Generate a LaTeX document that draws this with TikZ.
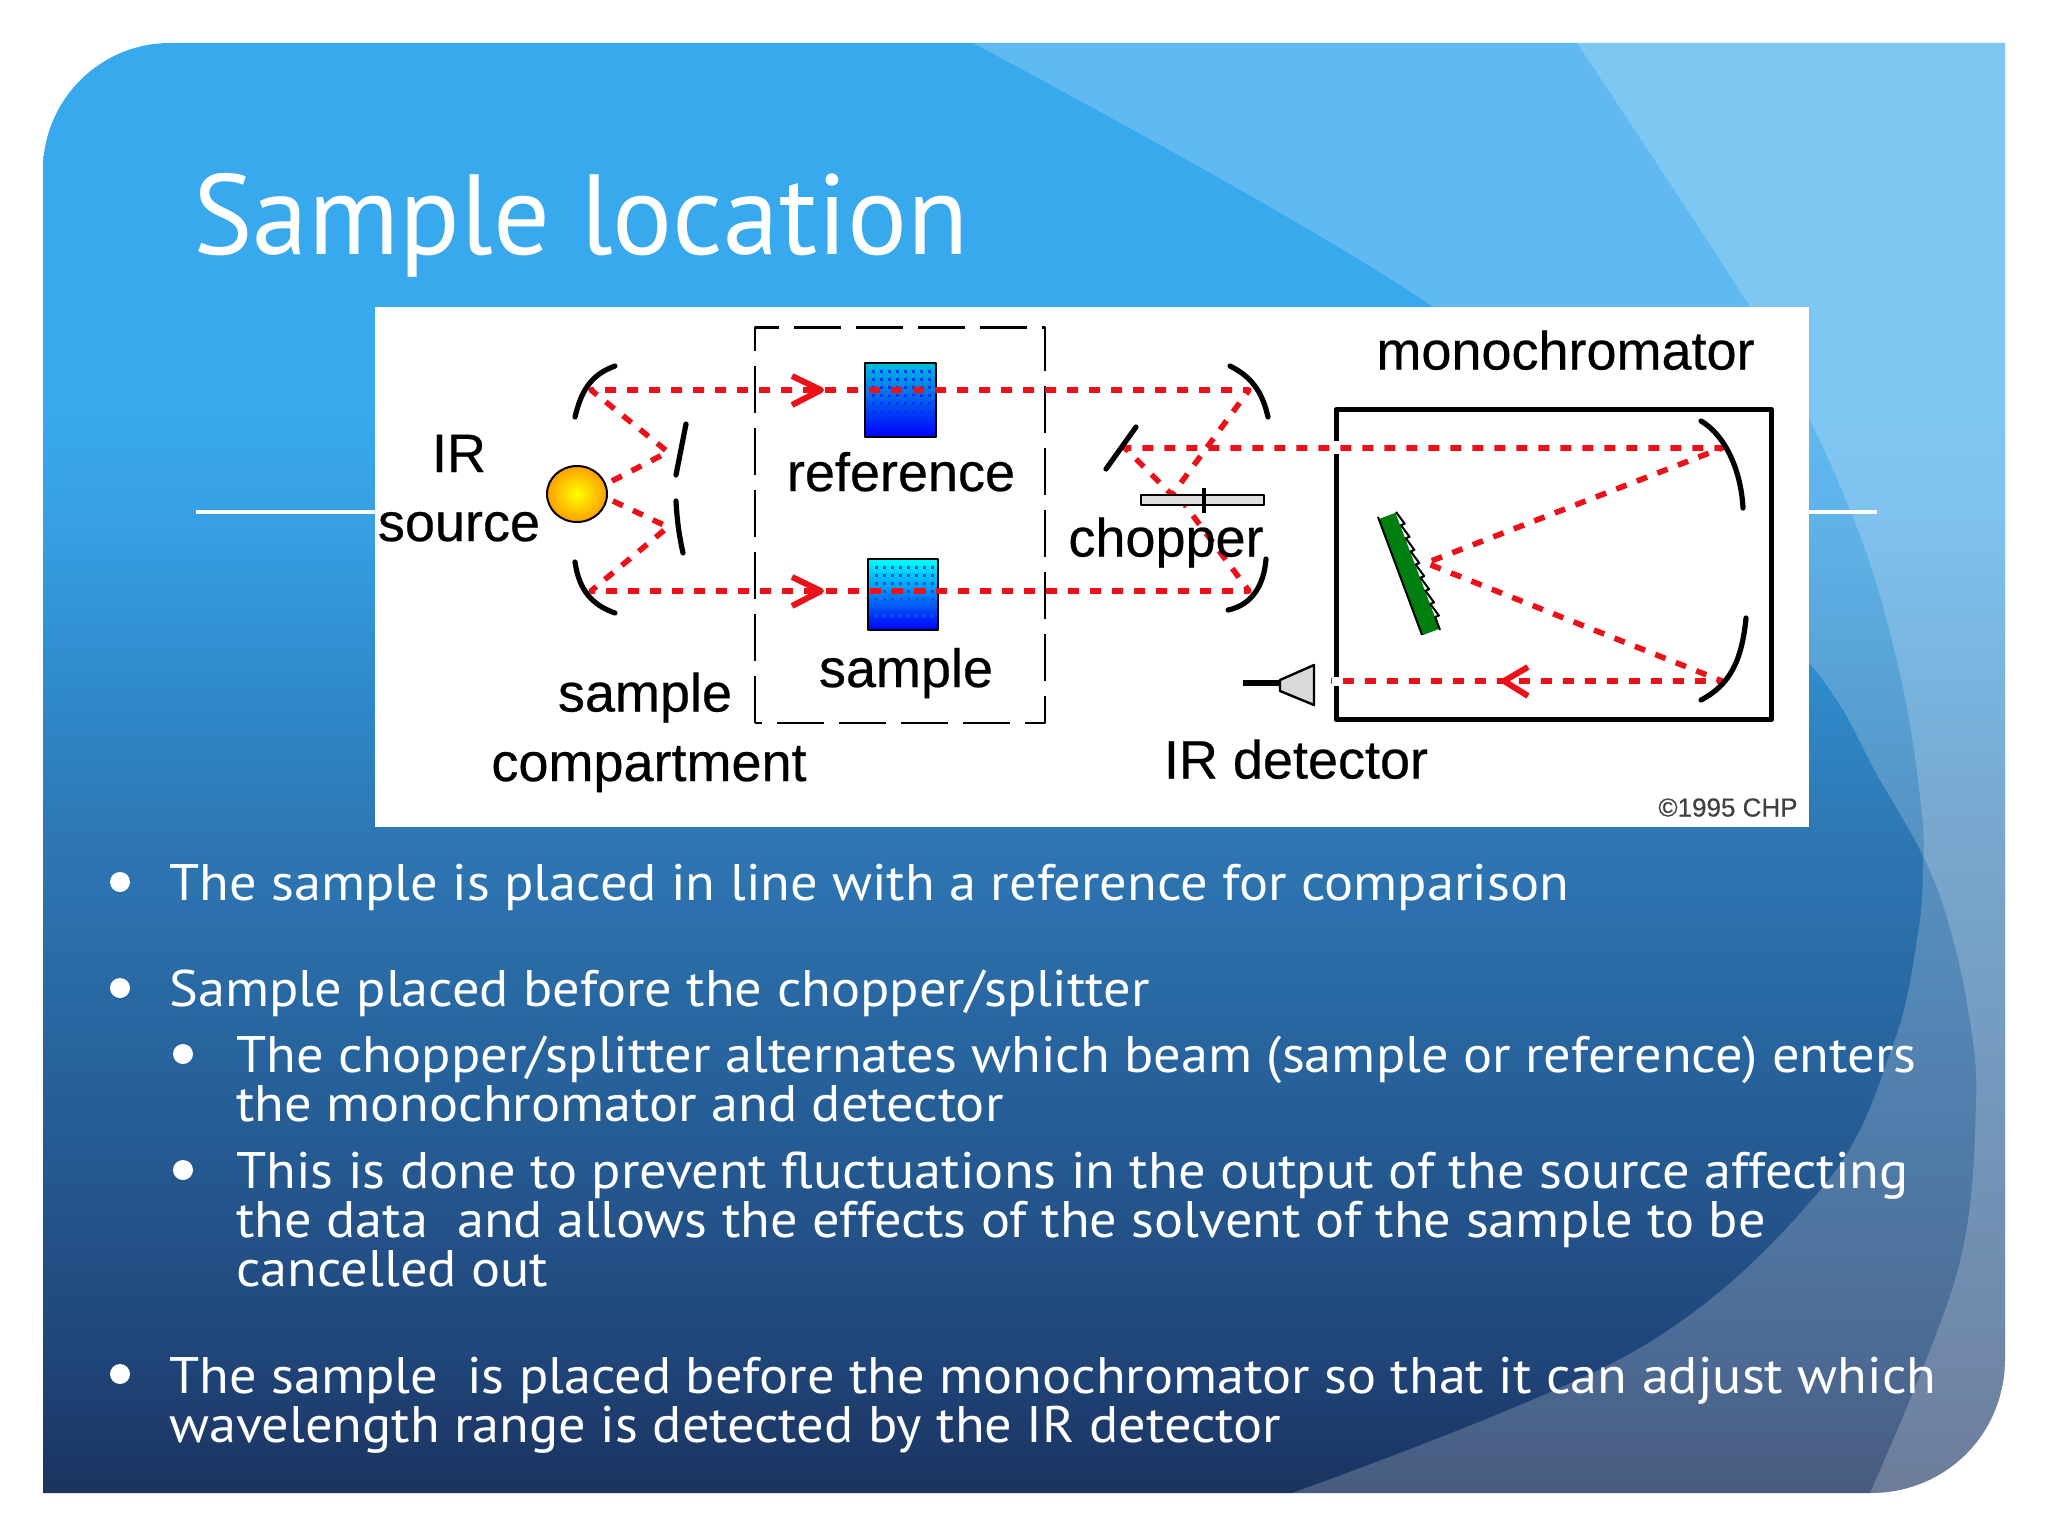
\documentclass[tikz,border=0pt]{standalone}
\usepackage{fontspec}
\setmainfont[FakeStretch=1.057]{PT Sans}
\newfontfamily\titlefont[FakeStretch=0.984]{PT Sans}
\newfontfamily\diagfont[FakeBold=0.4]{Liberation Sans}
\usetikzlibrary{decorations.pathmorphing}
\definecolor{beamred}{HTML}{EC1018}
\definecolor{gratinggreen}{HTML}{007F10}
\definecolor{slideA}{HTML}{1B3360}
\definecolor{slideB}{HTML}{20467A}
\definecolor{slideC}{HTML}{265F98}
\definecolor{slideD}{HTML}{2E78B5}
\definecolor{slideE}{HTML}{2E88C8}
\definecolor{slideF}{HTML}{37A0E4}
\definecolor{slideG}{HTML}{39A9EE}
\pgfdeclareverticalshading{slidebg}{100bp}{
  color(0bp)=(slideA); color(25bp)=(slideA); color(29.9bp)=(slideB); color(38.5bp)=(slideC);
  color(47.9bp)=(slideD); color(52.3bp)=(slideE); color(58.6bp)=(slideF); color(62.7bp)=(slideG);
  color(75bp)=(slideG); color(100bp)=(slideG)}
\tikzset{
  swoosh/.style={fill=white, fill opacity=0.2},
  bodyline/.style={anchor=base west, inner sep=0pt, text=white, font=\fontsize{25.7}{30}\selectfont},
  difftext/.style={anchor=base, inner sep=0pt, text=black, font=\diagfont\fontsize{27}{30}\selectfont},
  mirror/.style={line width=2.6pt, line cap=round},
  beam/.style={beamred, line width=2.8pt, dash pattern=on 5.5pt off 5.5pt},
  beamhead/.style={beamred, line width=3pt},
  dot/.style={fill=white}
}
\begin{document}
\begin{tikzpicture}[x=0.5pt, y=-0.5pt, line join=round]
	\useasboundingbox (0,0) rectangle (2048,1536);
	\fill[white] (0,0) rectangle (2048,1536);

	% slide background
	\def\slidepath{(170,43) -- (2005,43) -- (2005,1358) .. controls (2005,1435) and (1945,1493) .. (1870,1493) -- (43,1493) -- (43,170) .. controls (43,100) and (100,43) .. (170,43) -- cycle}
	\shade[shading=slidebg] \slidepath;
	\begin{scope}
		\clip \slidepath;
		\fill[swoosh] plot[smooth, tension=0.6] coordinates {(973,43) (1433,307) (1650,520) (1809,663) (1880,780) (1923,856) (1947,918) (1967,1004) (1976,1103) (1957,1273) (1870,1493)} -- (2100,1600) -- (2100,0) -- (973,0) -- cycle;
		\fill[swoosh] plot[smooth, tension=0.6] coordinates {(1577,43) (1750,307) (1809,418) (1850,510) (1880,596) (1907,708) (1922,815) (1923,867) (1918,933) (1893,1045) (1822,1188) (1633,1352) (1292,1493)} -- (1292,1600) -- (2100,1600) -- (2100,0) -- (1577,0) -- cycle;
	\end{scope}

	\node[anchor=base west, inner sep=0pt, text=white, font=\titlefont\fontsize{57}{60}\selectfont] (title) at (193,254) {Sample location};
	\draw[white, line width=2pt] (196,511.5) -- (1877,511.5);

	% white panel
	\fill[white] (375,307) rectangle (1809,827);

	\coordinate (S1) at (612,481);
	\coordinate (S2) at (613,501);
	\coordinate (T1) at (668,452);
	\coordinate (T2) at (668,527);
	\coordinate (A) at (591,390);
	\coordinate (B) at (591,591);
	\coordinate (C) at (1249,390);
	\coordinate (D) at (1249,591);
	\coordinate (E) at (1172,495);
	\coordinate (F) at (1185,505);
	\coordinate (G) at (1125,448);
	\coordinate (H) at (1722,448);
	\coordinate (K) at (1426,563);
	\coordinate (L) at (1722,681);
	\coordinate (M) at (1331,681);

	% compartment
	\draw[line width=1.25pt, dash pattern=on 23.5pt off 7.5pt] (755,723) -- (755,327.5) -- (1045,327.5) -- (1045,723) -- cycle;

	% sample cells
	\shade[top color=cyan!70!blue!85!green, bottom color=blue] (865,363) rectangle (936,437);
	\shade[top color=cyan, bottom color=blue] (868,559) rectangle (938,630);
	\foreach \x in {872,880,...,930}
		\foreach \y in {370,378,...,425}
			\fill[blue!80!cyan] (\x,\y) rectangle ++(3,3);
	\foreach \x in {875,883,...,933}
		\foreach \y in {566,574,...,620}
			\fill[cyan!30!blue] (\x,\y) rectangle ++(3,3);
	\draw[line width=1.25pt] (865,363) rectangle (936,437);
	\draw[line width=1.25pt] (868,559) rectangle (938,630);

	% beams
	\draw[beam] (S1) -- (T1) -- (A) -- (C) -- (E) -- (G) -- (H) -- (K) -- (L) -- (M);
	\draw[beam] (S2) -- (T2) -- (B) -- (D) -- (F);
	\draw[beamhead] (792,376) -- (821,390) -- (792,405);
	\draw[beamhead] (792,577) -- (821,591) -- (792,606);
	\draw[beamhead] (1528,667) -- (1504,681) -- (1528,696);

	% mirrors
	\draw[mirror] (575,417) .. controls (581,392) and (590,375) .. (615,366);
	\draw[mirror] (575,562) .. controls (579,590) and (592,605) .. (615,613);
	\draw[mirror] (686,424) -- (676,475);
	\draw[mirror] (676,501) .. controls (677,520) and (679,535) .. (683,553);
	\draw[mirror] (1230,366) .. controls (1250,376) and (1262,390) .. (1268,417);
	\draw[mirror] (1266,559) .. controls (1264,585) and (1252,605) .. (1228,610);
	\draw[mirror] (1136,427) -- (1106,469);
	\draw[mirror] (1701,421) .. controls (1725,435) and (1741,470) .. (1743,508);
	\draw[mirror] (1746,618) .. controls (1742,660) and (1730,685) .. (1701,700);

	% source
	\draw[line width=1pt, inner color=yellow, outer color=orange!75!yellow] (577,494) ellipse [x radius=30, y radius=28];

	% chopper
	\draw[line width=1pt, fill=gray!25] (1141,495) rectangle (1264,505);
	\draw[line width=1.8pt] (1204,488) -- (1204,513);

	% grating
	\draw[gratinggreen, line width=9pt] (1387,516) -- (1431,632);
	\draw[line width=1pt, decorate, decoration={saw, segment length=7pt, amplitude=2pt}] (1396,512) -- (1440,630);
	\draw[line width=1pt] (1378,517) -- (1422,635);

	% detector
	\draw[line width=3pt] (1243,683) -- (1280,683);
	\draw[line width=1.2pt, fill=gray!30] (1280,680) -- (1314,665) -- (1314,705) -- (1280,691) -- cycle;

	% monochromator box
	\draw[line width=2.5pt, line cap=butt] (1336,441) -- (1336,409.5) -- (1771.5,409.5) -- (1771.5,719.5) -- (1336,719.5) -- (1336,686);
	\draw[line width=2.5pt, line cap=butt] (1336,454) -- (1336,677);

	% labels
	\node[difftext] (irone) at (459,472) {IR};
	\node[difftext] (source) at (459,541) {source};
	\node[difftext] (reference) at (901,491) {reference};
	\node[difftext] (samplecell) at (906,687) {sample};
	\node[difftext] (sampletxt) at (645,711.5) {sample};
	\node[difftext] (compartment) at (649,781) {compartment};
	\node[difftext] (mono) at (1565.5,369.5) {monochromator};
	\node[difftext] (chopper) at (1166,556.5) {chopper};
	\node[difftext] (irdet) at (1296,778.5) {IR detector};
	\node[anchor=base, inner sep=0pt, text=black!75, font=\diagfont\fontsize{13}{14}\selectfont] (copy) at (1728,816.5) {©1995 CHP};

	% bullets
	\fill[dot] (120,882) circle (10);
	\fill[dot] (120,988) circle (10);
	\fill[dot] (183,1054) circle (10);
	\fill[dot] (183,1170) circle (10);
	\fill[dot] (120,1374) circle (10);

	\node[bodyline] (lineA) at (169,900.5) {The sample is placed in line with a reference for comparison};
	\node[bodyline] (lineB) at (169,1006.5) {Sample placed before the chopper/splitter};
	\node[bodyline] (lineC) at (236,1072.5) {The chopper/splitter alternates which beam (sample or reference) enters};
	\node[bodyline] (lineD) at (236,1121.5) {the monochromator and detector};
	\node[bodyline] (lineE) at (236,1188) {This is done to prevent fluctuations in the output of the source affecting};
	\node[bodyline] (lineF) at (236,1237) {the data\ \ and allows the effects of the solvent of the sample to be};
	\node[bodyline] (lineG) at (236,1286) {cancelled out};
	\node[bodyline] (lineH) at (169,1393) {The sample\ \ is placed before the monochromator so that it can adjust which};
	\node[bodyline] (lineI) at (169,1442) {wavelength range is detected by the IR detector};
\end{tikzpicture}
\end{document}
